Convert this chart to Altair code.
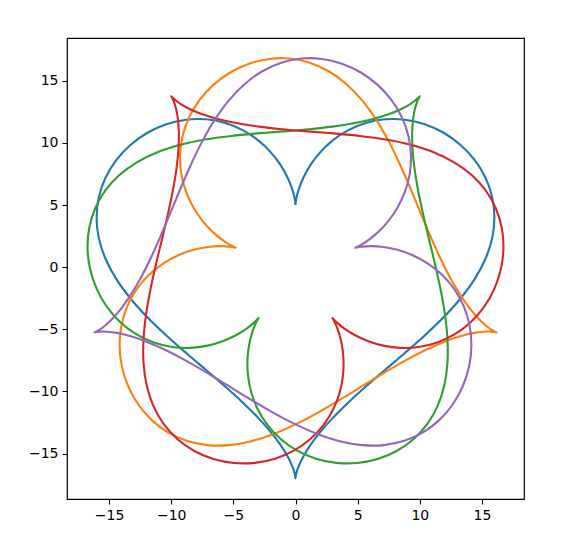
import math
import altair as alt
import pandas as pd

# Heart curve, right half, from top cusp to bottom cusp
heart_x = [0.0, 0.0106, 0.0838, 0.2774, 0.640, 1.2077, 2.0, 3.0192, 4.249, 5.6569,
           7.193, 8.7945, 10.392, 11.911, 13.276, 14.420, 15.282, 15.818, 16.0,
           15.818, 15.282, 14.420, 13.276, 11.911, 10.392, 8.7945, 7.193, 5.6569,
           4.249, 3.0192, 2.0, 1.2077, 0.640, 0.2774, 0.0838, 0.0106, 0.0]
heart_y = [5.0, 5.1549, 5.6059, 6.3127, 7.2122, 8.2241, 9.2584, 10.2226, 11.0300, 11.6066,
           11.8963, 11.8645, 11.5, 10.8136, 9.8349, 8.6091, 7.1899, 5.6351, 4.0,
           2.3336, 0.6750, -0.9488, -2.5218, -4.0384, -5.5, -6.9122, -8.2804, -9.6066,
           -10.8871, -12.1107, -13.2584, -14.3047, -15.2199, -15.9730, -16.5349, -16.8824, -17.0]

# Five copies of the heart, turned by these angles (degrees)
angles = [0, 72, 144, 216, 288]
series = ["C0", "C1", "C2", "C3", "C4"]
colors = ["#1f77b4", "#ff7f0e", "#2ca02c", "#d62728", "#9467bd"]

# full closed outline: right half then mirrored left half back to top
full_x = heart_x + [-v for v in reversed(heart_x[:-1])]
full_y = heart_y + list(reversed(heart_y[:-1]))

rows = []
for s, a in zip(series, angles):
    r = math.radians(a)
    c, si = math.cos(r), math.sin(r)
    for i, (x, y) in enumerate(zip(full_x, full_y)):
        rows.append({"series": s, "order": i,
                     "x": x * c - y * si, "y": x * si + y * c})
df = pd.DataFrame(rows)

ticks = [-15, -10, -5, 0, 5, 10, 15]

axis_common = dict(grid=False, values=ticks, tickColor="black", domain=False,
                   labelColor="black", labelFont="DejaVu Sans", labelFontSize=14,
                   tickSize=5, tickWidth=1.1, labelPadding=4, title=None)

chart = alt.Chart(df).mark_line(strokeWidth=2.1, interpolate="catmull-rom").encode(
    x=alt.X("x:Q", scale=alt.Scale(domain=[-18.38, 18.38], nice=False, zero=False),
            axis=alt.Axis(**axis_common)),
    y=alt.Y("y:Q", scale=alt.Scale(domain=[-18.66, 18.44], nice=False, zero=False),
            axis=alt.Axis(**axis_common)),
    color=alt.Color("series:N", scale=alt.Scale(domain=series, range=colors), legend=None),
    order="order:Q",
).properties(
    width=457, height=461,
    autosize=alt.AutoSizeParams(type="none"),
    padding={"left": 59, "top": 30, "right": 30, "bottom": 40},
).configure_view(stroke="black", strokeWidth=1.2)

chart.save("out.html", embed_options={"renderer": "svg", "actions": False})
